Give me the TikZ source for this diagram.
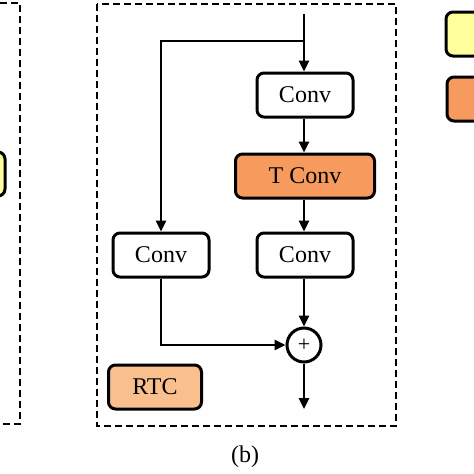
\documentclass[tikz,border=0pt]{standalone}
\usepackage{fontspec}
\setmainfont{Liberation Serif}
\usetikzlibrary{arrows.meta}
\definecolor{tconvorange}{HTML}{F79A5E}
\definecolor{rtcorange}{HTML}{F9C08E}
\definecolor{lightyellow}{HTML}{FFFF9E}
\begin{document}
\begin{tikzpicture}[x=1pt,y=-1pt,
    blk/.style={draw,line width=3pt,rounded corners=7pt,minimum width=96pt,
      minimum height=44pt,inner sep=0pt,font=\fontsize{24}{27}\selectfont},
    flow/.style={line width=2.6pt,-{Triangle[length=11pt,width=10pt]}},
    frame/.style={line width=2.6pt,dash pattern=on 7pt off 4pt}]
  \useasboundingbox (0,0) rectangle (474,474);
  \clip (0,0) rectangle (474,474);
  \fill[white] (0,0) rectangle (474,474);
  % neighbouring panels, cut off
  \draw[frame] (-60,3) rectangle (20,424);
  \draw[line width=3pt,rounded corners=7pt,fill=lightyellow] (-60,152) rectangle (5,196);
  \draw[line width=3pt,rounded corners=7pt,fill=lightyellow] (446,12) rectangle (530,56);
  \draw[line width=3pt,rounded corners=7pt,fill=tconvorange] (447,77) rectangle (530,121);
  % panel (b)
  \draw[frame] (97,4) rectangle (396,426);
  \node[blk] (C1) at (305,95) {Conv};
  \node[blk,fill=tconvorange,minimum width=139pt] (TC) at (305,176) {T Conv};
  \node[blk] (C2) at (305,255) {Conv};
  \node[blk] (C3) at (161,255) {Conv};
  \node[circle,draw,line width=3pt,minimum size=34pt,inner sep=0pt,
    font=\fontsize{22}{22}\selectfont] (add) at (304,345) {+};
  \node[blk,fill=rtcorange,minimum width=93pt] (RTC) at (155,387) {RTC};
  \node[font=\fontsize{24}{27}\selectfont] (cap) at (245,457) {(b)};
  \coordinate (in) at (304,14);
  \coordinate (split) at (304,41);
  \coordinate (out) at (304,409);
  \draw[flow] (in) -- (C1.north -| in);
  \draw[flow] (split) -| (C3.north);
  \draw[flow] (C1.south -| in) -- (TC.north -| in);
  \draw[flow] (TC.south -| in) -- (C2.north -| in);
  \draw[flow] (C2.south -| in) -- (add);
  \draw[flow] (C3.south) |- (add);
  \draw[flow] (add) -- (out);
\end{tikzpicture}
\end{document}
